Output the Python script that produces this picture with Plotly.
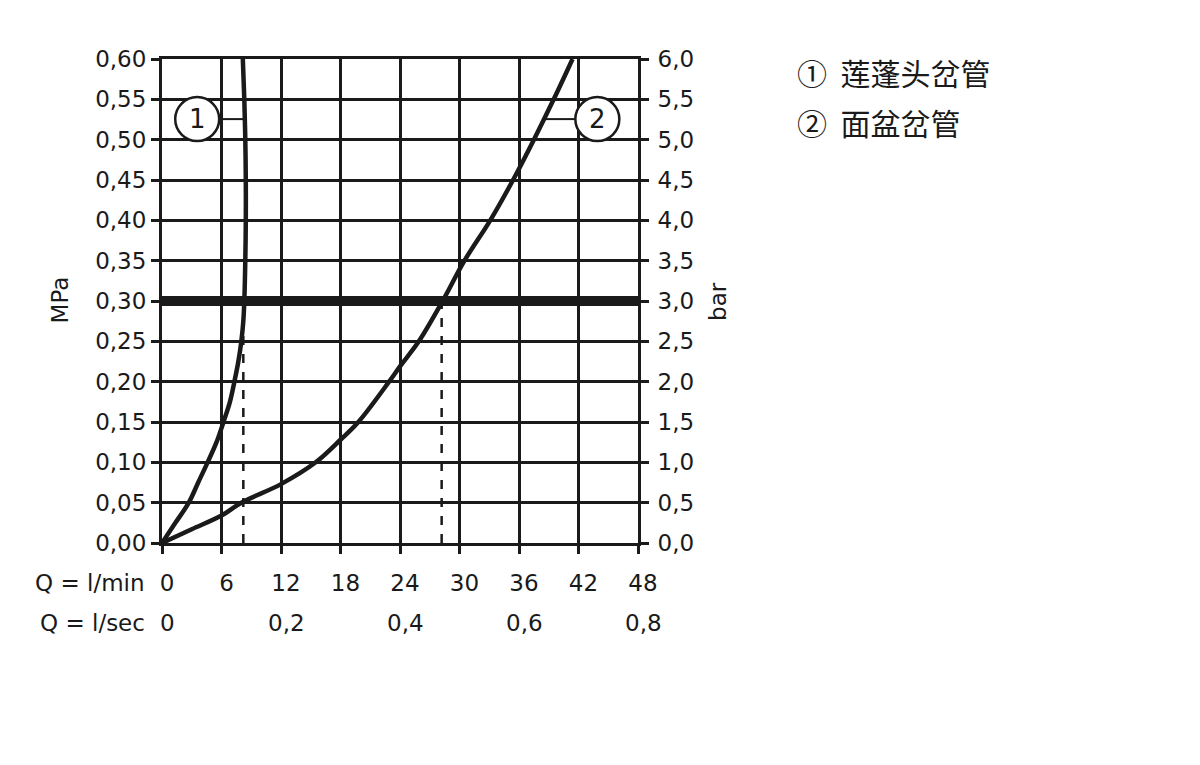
import plotly.graph_objects as go

# flow (l/min) and pressure (MPa)
shower_flow = [0, 1.35, 2.7, 3.65, 4.6, 5.5, 6.2, 6.85, 7.3, 7.7, 8.0, 8.2, 8.3, 8.4, 8.45, 8.45, 8.4, 8.3, 8.15]
shower_mpa = [0, 0.025, 0.05, 0.075, 0.10, 0.125, 0.15, 0.175, 0.20, 0.225, 0.25, 0.275, 0.30,
              0.35, 0.40, 0.45, 0.50, 0.55, 0.60]

basin_flow = [0, 3, 6, 8.0, 12, 15.5, 18, 19.8, 22.9, 24, 25.9, 28.3, 30.5, 33.1, 35.4, 37.5, 39.5, 41.4]
basin_mpa = [0, 0.017, 0.034, 0.05, 0.073, 0.10, 0.128, 0.15, 0.20, 0.219, 0.25, 0.30,
             0.35, 0.40, 0.45, 0.50, 0.55, 0.60]

# operating points at 0.3 MPa
work_pressure = 0.30
work_flows = [8.2, 28.2]

lmin_ticks = [0, 6, 12, 18, 24, 30, 36, 42, 48]
lsec_ticks = [0, 12, 24, 36, 48]
lsec_text = ["0", "0,2", "0,4", "0,6", "0,8"]

mpa_ticks = [i * 0.05 for i in range(13)]
mpa_text = ["0,00", "0,05", "0,10", "0,15", "0,20", "0,25", "0,30",
            "0,35", "0,40", "0,45", "0,50", "0,55", "0,60"]
bar_ticks = [i * 0.5 for i in range(13)]
bar_text = ["0,0", "0,5", "1,0", "1,5", "2,0", "2,5", "3,0",
            "3,5", "4,0", "4,5", "5,0", "5,5", "6,0"]

legend_lines = ["\u2460  莲蓬头岔管", "\u2461  面盆岔管"]

FONT = "DejaVu Sans"
INK = "#1a1a1a"
SIZE = 23

fig = go.Figure()

# thick line at working pressure
fig.add_trace(go.Scatter(x=[0, 48], y=[work_pressure, work_pressure], mode="lines",
                         line=dict(color=INK, width=10), hoverinfo="skip"))

# dashed drop lines
for f in work_flows:
    fig.add_trace(go.Scatter(x=[f, f], y=[0, work_pressure], mode="lines",
                             line=dict(color=INK, width=2.5, dash="dash"), hoverinfo="skip"))

fig.add_trace(go.Scatter(x=shower_flow, y=shower_mpa, mode="lines",
                         line=dict(color=INK, width=4.5, shape="spline", smoothing=1)))
fig.add_trace(go.Scatter(x=basin_flow, y=basin_mpa, mode="lines",
                         line=dict(color=INK, width=4.5, shape="spline", smoothing=1)))

# dummy trace so the bar axis is drawn
fig.add_trace(go.Scatter(x=[0], y=[0], yaxis="y2", mode="markers",
                         marker=dict(opacity=0), hoverinfo="skip"))

# leader lines and circled labels
label_y = 0.5255
fig.add_shape(type="line", x0=5.8, x1=8.3, y0=label_y, y1=label_y, line=dict(color=INK, width=2))
fig.add_shape(type="line", x0=38.6, x1=41.7, y0=label_y, y1=label_y, line=dict(color=INK, width=2))
for cx, num in [(3.55, "1"), (43.9, "2")]:
    fig.add_shape(type="circle", xref="x", yref="y", xsizemode="pixel", ysizemode="pixel",
                  xanchor=cx, yanchor=label_y, x0=-22, x1=22, y0=-22, y1=22,
                  line=dict(color=INK, width=2.5), fillcolor="white", layer="above")
    fig.add_annotation(x=cx, y=label_y, text=num, showarrow=False,
                       font=dict(family=FONT, size=26, color=INK))

# l/sec row and row captions
for v, t in zip(lsec_ticks, lsec_text):
    fig.add_annotation(x=v, y=-0.166, xref="x", yref="paper", text=t, showarrow=False,
                       xanchor="center", yanchor="middle", xshift=5,
                       font=dict(family=FONT, size=SIZE, color=INK))
fig.add_annotation(x=-0.031, y=-0.083, xref="paper", yref="paper", text="Q = l/min",
                   xanchor="right", yanchor="middle", showarrow=False,
                   font=dict(family=FONT, size=SIZE, color=INK))
fig.add_annotation(x=-0.031, y=-0.166, xref="paper", yref="paper", text="Q = l/sec",
                   xanchor="right", yanchor="middle", showarrow=False,
                   font=dict(family=FONT, size=SIZE, color=INK))

# axis titles
fig.add_annotation(x=-0.2135, y=0.502, xref="paper", yref="paper", text="MPa", textangle=-90,
                   xanchor="center", yanchor="middle", showarrow=False,
                   font=dict(family=FONT, size=SIZE, color=INK))
fig.add_annotation(x=1.168, y=0.5, xref="paper", yref="paper", text="bar", textangle=-90,
                   xanchor="center", yanchor="middle", showarrow=False,
                   font=dict(family=FONT, size=SIZE, color=INK))

# side legend
for i, txt in enumerate(legend_lines):
    fig.add_annotation(x=1.3296, y=0.973 - i * 0.103, xref="paper", yref="paper", text=txt,
                       xanchor="left", yanchor="middle", showarrow=False,
                       font=dict(family="Noto Sans CJK SC", size=30, color=INK))

fig.update_layout(
    width=1192, height=757,
    margin=dict(l=154, r=562, t=51, b=222),
    paper_bgcolor="white", plot_bgcolor="white",
    showlegend=False,
    xaxis=dict(range=[0, 48], tickvals=lmin_ticks, ticktext=[str(v) for v in lmin_ticks],
               showgrid=True, gridcolor=INK, gridwidth=2.5, zeroline=False,
               showline=True, linecolor=INK, linewidth=3, mirror=True,
               ticks="outside", ticklen=8, tickwidth=2.5, tickcolor=INK,
               ticklabelshift=5, ticklabelstandoff=9,
               tickfont=dict(family=FONT, size=SIZE, color=INK)),
    yaxis=dict(range=[0, 0.6], tickvals=mpa_ticks, ticktext=mpa_text,
               showgrid=True, gridcolor=INK, gridwidth=2.5, zeroline=False,
               showline=True, linecolor=INK, linewidth=3,
               ticks="outside", ticklen=8, tickwidth=2.5, tickcolor=INK,
               tickfont=dict(family=FONT, size=SIZE, color=INK)),
    yaxis2=dict(range=[0, 6], tickvals=bar_ticks, ticktext=bar_text, overlaying="y", side="right",
                showgrid=False, zeroline=False, showline=True, linecolor=INK, linewidth=3,
                ticks="outside", ticklen=8, tickwidth=2.5, tickcolor=INK,
                ticklabelstandoff=4,
                tickfont=dict(family=FONT, size=SIZE, color=INK)),
)

fig.write_html("out.html")
